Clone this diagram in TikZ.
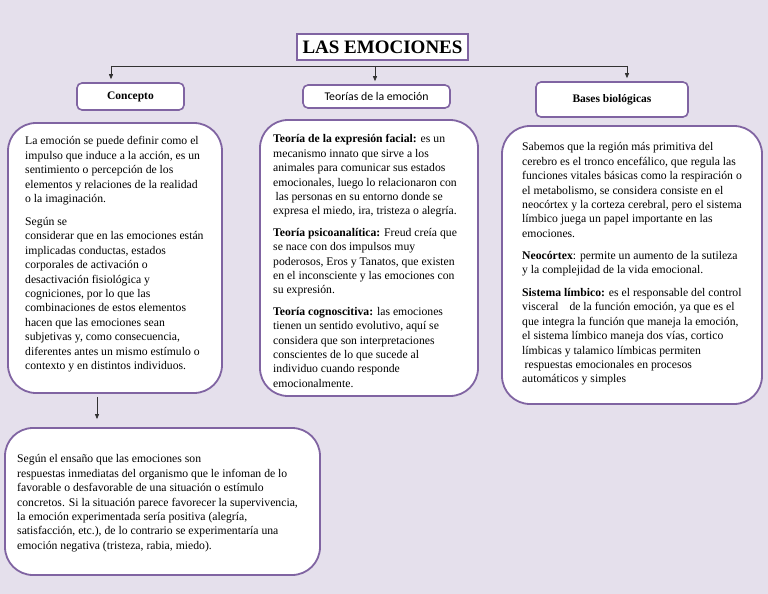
\documentclass[tikz,border=0pt]{standalone}
\usepackage{fontspec}
\setmainfont{Liberation Serif}
\newfontfamily\sansf{Carlito}
\usetikzlibrary{arrows.meta,calc}
\definecolor{bgc}{RGB}{229,224,236}
\definecolor{purp}{RGB}{128,100,162}
\definecolor{lnc}{RGB}{50,50,50}
\tikzset{
  bigbox/.style={draw=purp,line width=1.8pt,fill=white,rounded corners=28pt,inner sep=0pt},
  headbox/.style={draw=purp,line width=1.6pt,fill=white,rounded corners=5pt,inner sep=0pt},
  titlebox/.style={draw=purp,line width=1.6pt,fill=white,inner sep=0pt},
  bodytext/.style={anchor=north west,inner sep=0pt,align=left,font={\fontsize{11.7}{14.4}\selectfont}},
  conn/.style={draw=lnc,line width=0.8pt},
  arr/.style={conn,-{Triangle[length=5pt,width=4pt]},shorten >=3pt}
}
\begin{document}
\begin{tikzpicture}[x=1pt,y=-1pt]
\useasboundingbox (0,0) rectangle (768,594);
\fill[bgc] (0,0) rectangle (768,594);

% title
\node[titlebox,minimum width=171pt,minimum height=26pt] (title) at (382.5,47)
  {\fontsize{19}{22}\selectfont\bfseries LAS EMOCIONES};

% header boxes
\node[headbox,minimum width=107pt,minimum height=27pt] (concepto) at (130.5,96.5)
  {\fontsize{11.5}{13}\selectfont\bfseries Concepto};
\node[headbox,minimum width=147pt,minimum height=23pt] (teorias) at (376.5,96.5)
  {\sansf\fontsize{11.8}{13}\selectfont Teorías de la emoción};
\node[headbox,minimum width=152pt,minimum height=35pt] (bases) at (612,99.5)
  {\fontsize{11.5}{13}\selectfont\bfseries Bases biológicas};

% connectors from the top line
\coordinate (hl) at (111,66);
\coordinate (hm) at (375,66);
\coordinate (hr) at (627,66);
\draw[conn] (hl) -- (hr);
\draw[arr] (hl) -- (hl |- concepto.north);
\draw[arr] (hm) -- (hm |- teorias.north);
\draw[arr] (hr) -- (hr |- bases.north);

% big boxes
\node[bigbox,minimum width=214pt,minimum height=270pt] (b1) at (115,258) {};
\node[bigbox,minimum width=218pt,minimum height=276pt] (b2) at (369,258) {};
\node[bigbox,minimum width=260pt,minimum height=278pt] (b3) at (632,265) {};
\node[bigbox,minimum width=315pt,minimum height=147pt] (b4) at (162.5,501.5) {};

\coordinate (ax) at (97,0);
\draw[arr,shorten >=8pt,shorten <=3pt] (b1.south -| ax) -- (b4.north -| ax);

% texts
\node[bodytext] (t1) at (25,134.7) {\strut La emoción se puede definir como el\\
impulso que induce a la acción, es un\\
sentimiento o percepción de los\\
elementos y relaciones de la realidad\\
o la imaginación.\\[8.5pt]
Según se\\
considerar que en las emociones están\\
implicadas conductas, estados\\
corporales de activación o\\
desactivación fisiológica y\\
cogniciones, por lo que las\\
combinaciones de estos elementos\\
hacen que las emociones sean\\
subjetivas y, como consecuencia,\\
diferentes antes un mismo estímulo o\\
contexto y en distintos individuos.};

\node[bodytext] (t2) at (273,132.7) {\strut\textbf{Teoría de la expresión facial:} es un\\
mecanismo innato que sirve a los\\
animales para comunicar sus estados\\
emocionales, luego lo relacionaron con\\
\hspace*{2.5pt}las personas en su entorno donde se\\
expresa el miedo, ira, tristeza o alegría.\\[7pt]
\textbf{Teoría psicoanalítica:} Freud creía que\\
se nace con dos impulsos muy\\
poderosos, Eros y Tanatos, que existen\\
en el inconsciente y las emociones con\\
su expresión.\\[7pt]
\textbf{Teoría cognoscitiva:} las emociones\\
tienen un sentido evolutivo, aquí se\\
considera que son interpretaciones\\
conscientes de lo que sucede al\\
individuo cuando responde\\
emocionalmente.};

\node[bodytext] (t3) at (522,140.7) {\strut Sabemos que la región más primitiva del\\
cerebro es el tronco encefálico, que regula las\\
funciones vitales básicas como la respiración o\\
el metabolismo, se considera consiste en el\\
neocórtex y la corteza cerebral, pero el sistema\\
límbico juega un papel importante en las\\
emociones.\\[7.5pt]
\textbf{Neocórtex}: permite un aumento de la sutileza\\
y la complejidad de la vida emocional.\\[8.5pt]
\textbf{Sistema límbico:} es el responsable del control\\
visceral\hspace{8pt} de la función emoción, ya que es el\\
que integra la función que maneja la emoción,\\
el sistema límbico maneja dos vías, cortico\\
límbicas y talamico límbicas permiten\\
\hspace*{2.5pt}respuestas emocionales en procesos\\
automáticos y simples};

\node[bodytext] (t4) at (17,452.7) {\strut Según el ensaño que las emociones son\\
respuestas inmediatas del organismo que le infoman de lo\\
favorable o desfavorable de una situación o estímulo\\
concretos. Si la situación parece favorecer la supervivencia,\\
la emoción experimentada sería positiva (alegría,\\
satisfacción, etc.), de lo contrario se experimentaría una\\
emoción negativa (tristeza, rabia, miedo).};
\end{tikzpicture}
\end{document}
